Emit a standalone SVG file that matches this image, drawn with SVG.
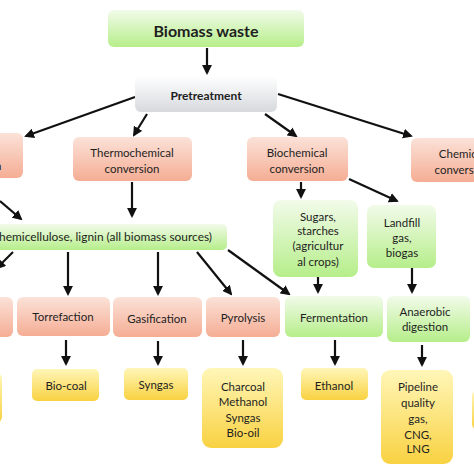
<svg xmlns="http://www.w3.org/2000/svg" width="474" height="474" viewBox="0 0 474 474">
<style>
text{font-family:Lato,"Liberation Sans",sans-serif;fill:#1e1e1e;text-anchor:middle;font-size:11.5px}
.b{font-weight:bold}
.ln{stroke:#111;stroke-width:2.2;fill:none;marker-end:url(#ah)}
.g{fill:url(#gg)}.p{fill:url(#gp)}.y{fill:url(#gy)}.w{fill:url(#gw)}
</style>
<defs>
<linearGradient id="gg" x1="0" y1="0" x2="0" y2="1"><stop offset="0" stop-color="#f2fbea"/><stop offset="1" stop-color="#b6ee8a"/></linearGradient>
<linearGradient id="gp" x1="0" y1="0" x2="0" y2="1"><stop offset="0" stop-color="#fbe2d8"/><stop offset="1" stop-color="#f5ad94"/></linearGradient>
<linearGradient id="gy" x1="0" y1="0" x2="0" y2="1"><stop offset="0" stop-color="#fff6b8"/><stop offset="1" stop-color="#f9d242"/></linearGradient>
<linearGradient id="gw" x1="0" y1="0" x2="0" y2="1"><stop offset="0" stop-color="#ffffff"/><stop offset="1" stop-color="#d6d9dd"/></linearGradient>
<marker id="ah" viewBox="0 0 10 10" refX="8" refY="5" markerWidth="4.5" markerHeight="4.5" orient="auto" markerUnits="strokeWidth"><path d="M0,0L10,5L0,10z" fill="#111"/></marker>
</defs>
<g id="connectors">
<line class="ln" x1="207" y1="48" x2="207" y2="73"/>
<line class="ln" x1="135" y1="97" x2="26" y2="136"/>
<line class="ln" x1="147" y1="114" x2="134" y2="135"/>
<line class="ln" x1="265" y1="114" x2="296" y2="136"/>
<line class="ln" x1="278" y1="94" x2="411" y2="136"/>
<line class="ln" x1="132" y1="182" x2="132" y2="216"/>
<line class="ln" x1="0" y1="201" x2="21" y2="219"/>
<line class="ln" x1="13" y1="252" x2="-3" y2="268"/>
<line class="ln" x1="301" y1="182" x2="301" y2="197"/>
<line class="ln" x1="349" y1="179" x2="397" y2="201"/>
<line class="ln" x1="68" y1="252" x2="68" y2="294"/>
<line class="ln" x1="158" y1="252" x2="158" y2="294"/>
<line class="ln" x1="197" y1="252" x2="231" y2="294"/>
<line class="ln" x1="228" y1="250" x2="289" y2="294"/>
<line class="ln" x1="318" y1="277" x2="318" y2="292"/>
<line class="ln" x1="412" y1="268" x2="412" y2="292"/>
<line class="ln" x1="66" y1="340" x2="66" y2="364"/>
<line class="ln" x1="158" y1="341" x2="158" y2="364"/>
<line class="ln" x1="243" y1="340" x2="243" y2="364"/>
<line class="ln" x1="335" y1="340" x2="335" y2="364"/>
<line class="ln" x1="422" y1="345" x2="422" y2="365"/>
</g>
<g id="biomass"><rect class="g" x="108" y="10" width="196" height="37" rx="6"/><text class="b" x="206" y="37" style="font-size:16px">Biomass waste</text></g>
<g id="pretreatment"><rect class="w" x="135" y="76" width="142" height="36" rx="6"/><text class="b" x="206" y="100" style="font-size:12px">Pretreatment</text></g>
<g id="physical"><rect class="p" x="-80" y="133" width="103" height="45" rx="6"/><text x="-26" y="153">Physical</text><text x="-26" y="170">conversion</text></g>
<g id="thermo"><rect class="p" x="73" y="137" width="119" height="44" rx="6"/><text x="132" y="157">Thermochemical</text><text x="132" y="173">conversion</text></g>
<g id="bio"><rect class="p" x="247" y="137" width="101" height="44" rx="6"/><text x="297" y="157">Biochemical</text><text x="297" y="173">conversion</text></g>
<g id="chem"><rect class="p" x="411" y="138" width="104" height="44" rx="6"/><text x="462" y="158">Chemical</text><text x="462" y="174">conversion</text></g>
<g id="lignocellulose"><rect class="g" x="-120" y="224" width="347" height="26" rx="5"/><text x="212" y="241" style="text-anchor:end" textLength="266" lengthAdjust="spacingAndGlyphs">Cellulose, hemicellulose, lignin (all biomass sources)</text></g>
<g id="sugars"><rect class="g" x="273" y="200" width="85" height="77" rx="8"/><text x="318" y="221">Sugars,</text><text x="318" y="235">starches</text><text x="318" y="250">(agricultur</text><text x="318" y="266">al crops)</text></g>
<g id="landfill"><rect class="g" x="367" y="205" width="69" height="63" rx="7"/><text x="402" y="227">Landfill</text><text x="402" y="242">gas,</text><text x="402" y="257">biogas</text></g>
<g id="leftproc"><rect class="p" x="-60" y="297" width="73" height="40" rx="6"/></g>
<g id="torrefaction"><rect class="p" x="17" y="297" width="93" height="39" rx="6"/><text x="63" y="321">Torrefaction</text></g>
<g id="gasification"><rect class="p" x="113" y="297" width="89" height="40" rx="6"/><text x="157" y="323">Gasification</text></g>
<g id="pyrolysis"><rect class="p" x="206" y="297" width="74" height="40" rx="6"/><text x="243" y="322">Pyrolysis</text></g>
<g id="fermentation"><rect class="g" x="285" y="296" width="98" height="41" rx="6"/><text x="334" y="322">Fermentation</text></g>
<g id="anaerobic"><rect class="g" x="387" y="296" width="83" height="46" rx="6"/><text x="425" y="316">Anaerobic</text><text x="425" y="331">digestion</text></g>
<g id="leftprod"><rect class="y" x="-60" y="373" width="62" height="50" rx="6"/></g>
<g id="biocoal"><rect class="y" x="32" y="369" width="67" height="32" rx="5"/><text x="66" y="390">Bio-coal</text></g>
<g id="syngas"><rect class="y" x="124" y="368" width="64" height="32" rx="5"/><text x="156" y="389">Syngas</text></g>
<g id="pyroprod"><rect class="y" x="202" y="368" width="81" height="80" rx="9"/><text x="243" y="391">Charcoal</text><text x="243" y="406">Methanol</text><text x="243" y="422">Syngas</text><text x="243" y="437">Bio-oil</text></g>
<g id="ethanol"><rect class="y" x="301" y="368" width="67" height="32" rx="5"/><text x="334" y="390">Ethanol</text></g>
<g id="pipeline"><rect class="y" x="381" y="370" width="72" height="94" rx="9"/><text x="418" y="391">Pipeline</text><text x="418" y="407">quality</text><text x="418" y="423">gas,</text><text x="418" y="439">CNG,</text><text x="418" y="453">LNG</text></g>
<g id="rightprod"><rect class="y" x="472" y="390" width="60" height="40" rx="6"/></g>
</svg>
